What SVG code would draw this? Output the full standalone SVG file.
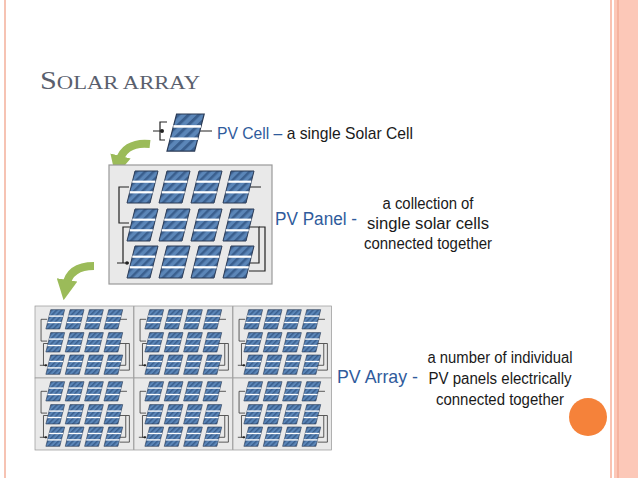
<svg xmlns="http://www.w3.org/2000/svg" xmlns:xlink="http://www.w3.org/1999/xlink" width="638" height="478" viewBox="0 0 638 478">
<style>
.sans{font-family:"Liberation Sans",Arial,sans-serif}
.blue{fill:#2f5b9c}
.blk{fill:#1a1a1a}
.wire{fill:none;stroke:#222;stroke-width:1.2}
.arr{fill:none;stroke:#9bbb59;stroke-width:8}
</style>
<defs>
<pattern id="hatch" width="6" height="6" patternUnits="userSpaceOnUse" patternTransform="rotate(45)">
<rect width="6" height="6" fill="#5b86b8"/>
<rect width="2.5" height="6" fill="#3a5f8e"/>
</pattern>
<g id="cell">
<polygon points="8,0 31,0 23,32 0,32" fill="url(#hatch)" stroke="#2a3a55" stroke-width="1"/>
<line x1="5.3" y1="10.7" x2="28.3" y2="10.7" stroke="#fff" stroke-width="2.2"/>
<line x1="2.7" y1="21.3" x2="25.7" y2="21.3" stroke="#fff" stroke-width="2.2"/>
</g>
<g id="panel">
<rect x="0" y="0" width="163" height="119" fill="#e9e9e9" stroke="#999" stroke-width="1.2"/>
<path class="wire" d="M140,22 H152 M20,22 H10 V58 H20 M22,62 H14 V98 H20 M140,62 H150 V98 H140 M8,98 H20"/>
<path class="wire" d="M150,62 H156 V106 H140"/>
<circle cx="18" cy="98" r="1.8" fill="#222"/>
<use xlink:href="#cell" x="18" y="6"/><use xlink:href="#cell" x="50" y="6"/><use xlink:href="#cell" x="82" y="6"/><use xlink:href="#cell" x="114" y="6"/>
<use xlink:href="#cell" x="18" y="44"/><use xlink:href="#cell" x="50" y="44"/><use xlink:href="#cell" x="82" y="44"/><use xlink:href="#cell" x="114" y="44"/>
<use xlink:href="#cell" x="18" y="81"/><use xlink:href="#cell" x="50" y="81"/><use xlink:href="#cell" x="82" y="81"/><use xlink:href="#cell" x="114" y="81"/>
</g>
<marker id="ah" viewBox="0 0 10 10" refX="3" refY="5" markerWidth="2.6" markerHeight="2.6" orient="auto"><path d="M0,0 L10,5 L0,10 Z" fill="#9bbb59"/></marker>
</defs>
<rect width="638" height="478" fill="#fff"/>
<rect x="4" y="0" width="2" height="478" fill="#f6c3b3"/>
<rect x="610" y="0" width="2" height="478" fill="#f9c3b2"/>
<rect x="614" y="0" width="24" height="478" fill="#fcc8b8"/>
<rect x="617" y="0" width="2" height="478" fill="#f5b39f"/>
<text x="40" y="89" font-family="Liberation Serif,serif" fill="#5a5f6e" textLength="160" lengthAdjust="spacingAndGlyphs"><tspan font-size="26">S</tspan><tspan font-size="19.5">OLAR ARRAY</tspan></text>
<g id="connectors">
<path class="arr" d="M150,144 C132,142 122,150 119,162" marker-end="url(#ah)"/>
<path class="arr" d="M94,266 C76,266 68,274 66,286" marker-end="url(#ah)"/>
</g>
<g id="pv-cell">
<path class="wire" d="M153,131 H163 M167,122 H160 V140 H165 M200,131 H212"/>
<circle cx="162" cy="131" r="2" fill="#222"/>
<use xlink:href="#cell" transform="translate(167,114) scale(1.2,1.16)"/>
<text x="217" y="139" class="sans" font-size="17" textLength="196" lengthAdjust="spacingAndGlyphs"><tspan class="blue">PV Cell –</tspan><tspan class="blk"> a single Solar Cell</tspan></text>
</g>
<g id="pv-panel">
<use xlink:href="#panel" x="109" y="165"/>
<text x="275" y="225" class="sans blue" font-size="17.5" textLength="82" lengthAdjust="spacingAndGlyphs">PV Panel -</text>
<g class="sans blk" font-size="16" text-anchor="middle">
<text x="428" y="209" textLength="91" lengthAdjust="spacingAndGlyphs">a collection of</text>
<text x="428" y="229" textLength="122" lengthAdjust="spacingAndGlyphs">single solar cells</text>
<text x="428" y="249" textLength="128" lengthAdjust="spacingAndGlyphs">connected together</text>
</g>
</g>
<g id="pv-array">
<use xlink:href="#panel" transform="translate(35,306) scale(0.605)"/>
<use xlink:href="#panel" transform="translate(134,306) scale(0.605)"/>
<use xlink:href="#panel" transform="translate(233,306) scale(0.605)"/>
<use xlink:href="#panel" transform="translate(35,378) scale(0.605)"/>
<use xlink:href="#panel" transform="translate(134,378) scale(0.605)"/>
<use xlink:href="#panel" transform="translate(233,378) scale(0.605)"/>
<text x="337" y="383" class="sans blue" font-size="18.5" textLength="81" lengthAdjust="spacingAndGlyphs">PV Array -</text>
<g class="sans blk" font-size="16" text-anchor="middle">
<text x="500" y="363" textLength="145" lengthAdjust="spacingAndGlyphs">a number of individual</text>
<text x="500" y="384" textLength="143" lengthAdjust="spacingAndGlyphs">PV panels electrically</text>
<text x="500" y="405" textLength="128" lengthAdjust="spacingAndGlyphs">connected together</text>
</g>
</g>
<circle cx="588" cy="417" r="19" fill="#f5823a"/>
</svg>
